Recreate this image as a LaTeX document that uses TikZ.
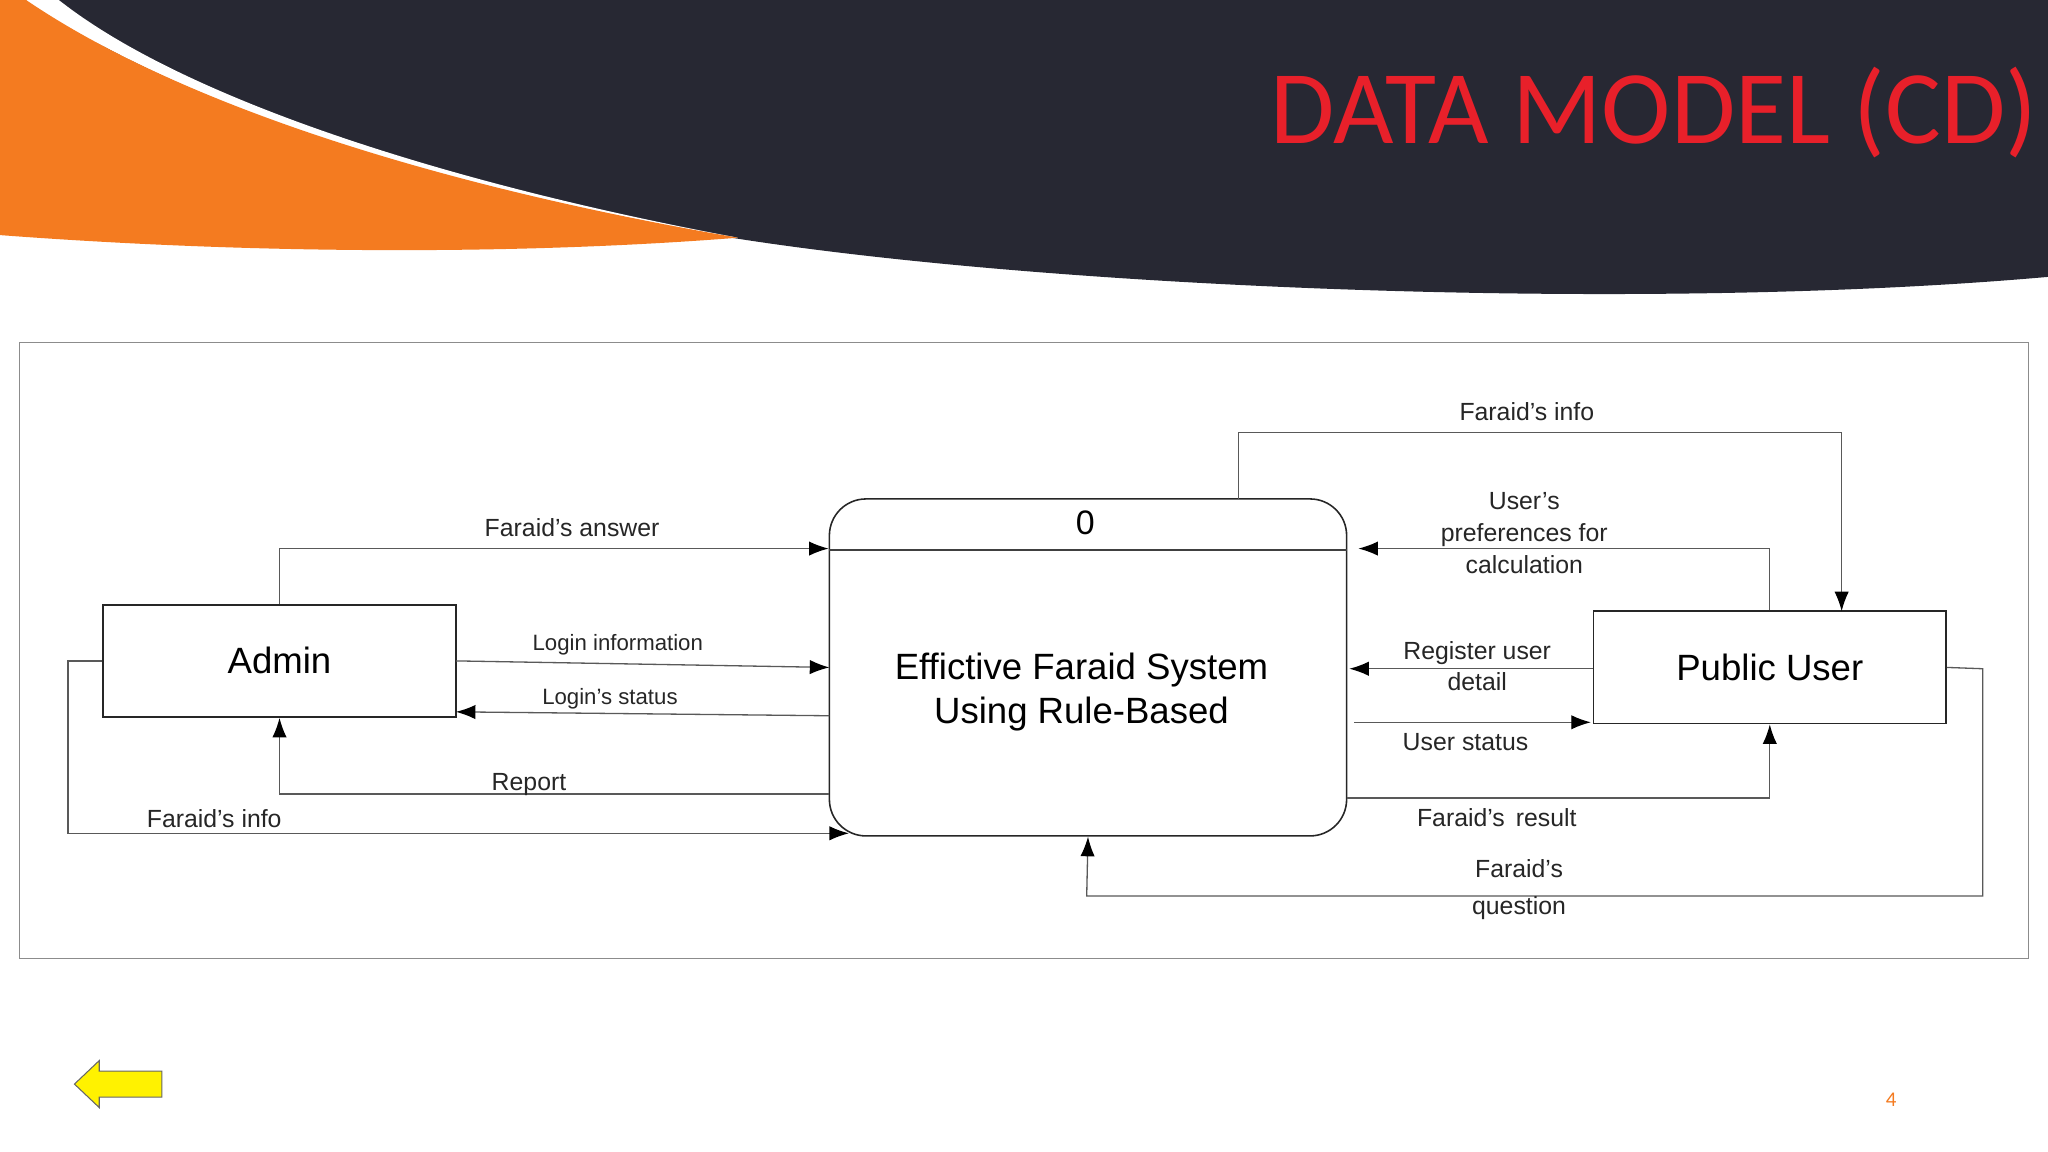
\documentclass[tikz,border=0pt]{standalone}
\usepackage{fontspec}
\setmainfont{Liberation Sans}
\newfontfamily\titlefont{Carlito}
\usetikzlibrary{arrows.meta}
\definecolor{dark}{HTML}{272833}
\definecolor{orng}{HTML}{F47B20}
\definecolor{ttl}{HTML}{E8202A}
\begin{document}
\begin{tikzpicture}[x=1pt,y=-1pt,
  ent/.style={draw=black!85,line width=1.2pt,minimum width=270pt,minimum height=86pt,font=\fontsize{28}{30}\selectfont,inner sep=0},
  flow/.style={draw=black!65,line width=1pt,-{Latex[length=15pt,width=11pt,color=black]}},
  lab/.style={font=\fontsize{19}{24}\selectfont,text=black!85,inner sep=1pt,align=center}]
\useasboundingbox (0,0) rectangle (1568,882);
\fill[white] (0,0) rectangle (1568,882);
% banner
\fill[dark] (0,0) -- (1568,0) -- (1568,212) .. controls (1250,240) and (800,220) .. (560,182) .. controls (330,145) and (120,80) .. (30,0) -- cycle;
\fill[white] (20,0) -- (45,0) .. controls (140,75) and (340,140) .. (565,182) -- (540,182) .. controls (320,140) and (130,75) .. (20,0) -- cycle;
\fill[orng] (0,0) -- (20,0) .. controls (130,75) and (320,140) .. (565,182) .. controls (400,195) and (200,195) .. (0,180) -- cycle;
\node[anchor=east,text=ttl,font=\titlefont\fontsize{80}{84}\selectfont,inner sep=0] (title) at (1560,86) {DATA MODEL (CD)};
% frame
\draw[black!45,line width=1pt] (15,262) rectangle (1553,734);
% nodes
\node[ent] (admin) at (214,506) {Admin};
\node[ent] (pub) at (1355,511) {Public User};
\node[draw=black!85,line width=1.2pt,rounded corners=28pt,minimum width=396pt,minimum height=258pt,inner sep=0] (sys) at (833,511) {};
\draw[black!75,line width=1pt] (635,421) -- (1031,421);
\node[font=\fontsize{26}{28}\selectfont] (zero) at (831,400) {0};
\node[font=\fontsize{28}{34}\selectfont,align=center] (sysl) at (828,530) {Effictive Faraid System\\Using Rule-Based};
% coordinates
\coordinate (a1) at (214,420);
\coordinate (r1) at (214,608);
\coordinate (f1) at (52,506); \coordinate (f2) at (52,638);
\coordinate (t1) at (948,331); \coordinate (t2) at (1410,331);
\coordinate (p1) at (1355,420);
\coordinate (s1) at (1355,611);
\coordinate (q1) at (1518,512); \coordinate (q2) at (1518,686); \coordinate (q3) at (832,686);
% flows
\draw[flow] (admin.north) -- (a1) -- (a1 -| sys.west);
\node[lab] (fal) at (438,404) {Faraid's answer};
\draw[flow] (349,506) -- (635,511);
\node[lab,font=\fontsize{17}{20}\selectfont] (lil) at (473,494) {Login information};
\draw[flow] (635,548) -- (349,545);
\node[lab,font=\fontsize{17}{20}\selectfont] (lsl) at (467,535) {Login's status};
\draw[flow] (635,608) -- (r1) -- (admin.south);
\node[lab] (rpl) at (405,601) {Report};
\draw[flow] (admin.west) -- (f1) -- (f2) -- (650,638);
\node[lab] (fil) at (164,627) {Faraid's info};
\draw[flow] (948,382) -- (t1) -- (t2) -- (1410,468);
\node[lab] (ftl) at (1169,315) {Faraid's info};
\draw[flow] (pub.north) -- (p1) -- (1040,420);
\node[lab,font=\fontsize{19}{24.5}\selectfont] (upl) at (1167,408) {User's\\preferences for\\calculation};
\draw[flow] (1220,512) -- (1033,512);
\node[lab] (rul) at (1131,510) {Register user\\detail};
\draw[flow] (1037,553) -- (1218,553);
\node[lab] (usl) at (1122,568) {User status};
\draw[flow] (1031,611) -- (s1) -- (pub.south);
\node[lab] (frl) at (1146,626) {Faraid's\, result};
\draw[flow] (pub.east) -- (q1) -- (q2) -- (q3) -- (sys.south);
\node[lab,font=\fontsize{19}{28}\selectfont] (fql) at (1163,681) {Faraid's\\question};
% bottom
\draw[fill=yellow,draw=black!60,line width=0.8pt] (57,830) -- (76,812) -- (76,820) -- (124,820) -- (124,840) -- (76,840) -- (76,848) -- cycle;
\node[text=orng,font=\titlefont\fontsize{16}{18}\selectfont] (pg) at (1448,842) {4};
\end{tikzpicture}
\end{document}
